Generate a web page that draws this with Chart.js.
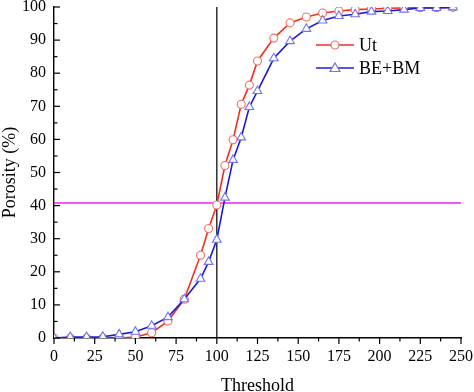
<!DOCTYPE html>
<html>
<head>
<meta charset="utf-8">
<script src="https://cdn.jsdelivr.net/npm/chart.js@4/dist/chart.umd.min.js"></script>
<style>
  html, body { margin: 0; padding: 0; background: #fff; overflow: hidden; }
  #wrap { width: 474px; height: 392px; overflow: hidden; }
</style>
</head>
<body>
<div id="wrap"><canvas id="porosityChart" width="474" height="404"></canvas></div>
<script>
// thresholds sampled for both curves
const thresholds = [0, 10, 20, 30, 40, 50, 60, 70, 80, 90, 95, 100, 105, 110, 115, 120, 125,
  135, 145, 155, 165, 175, 185, 195, 205, 215, 225, 235, 245];
const utValues = [0, 0, 0, 0, 0, 0.3, 1.6, 5.1, 11.7, 25.0, 33.1, 40.2, 52.1, 59.9, 70.6, 76.4, 83.7,
  90.6, 95.2, 97.0, 98.2, 98.8, 99.2, 99.4, 99.6, 99.7, 99.8, 99.8, 99.9];
const beBmValues = [0, 0.3, 0.3, 0.4, 1.1, 1.9, 3.7, 6.3, 11.7, 17.9, 23.0, 29.7, 42.4, 53.8, 60.6, 69.8, 74.6,
  84.5, 89.7, 93.4, 95.9, 97.3, 97.8, 98.6, 98.8, 99.2, 99.7, 99.7, 99.9];
const seriesNames = ["Ut", "BE+BM"];
const xTickValues = [0, 25, 50, 75, 100, 125, 150, 175, 200, 225, 250];
const yTickValues = [0, 10, 20, 30, 40, 50, 60, 70, 80, 90, 100];
const thresholdMark = 100;
const porosityMark = 40.8;

const serif = "'Liberation Serif', 'Times New Roman', serif";
const redLine = "#f0301e", redMarker = "#f07060";
const blueLine = "#1c1cd8", blueMarker = "#7272f0";

const toPoints = (xs, ys) => xs.map((x, i) => ({ x: x, y: ys[i] }));

// axis ticks (major + minor) drawn from the scales
const axisTicks = {
  id: "axisTicks",
  afterDraw(chart) {
    const { ctx, scales: { x, y }, chartArea } = chart;
    ctx.save();
    ctx.strokeStyle = "#000";
    ctx.lineWidth = 1.2;
    for (let v = 0; v <= 250; v += 12.5) {
      const px = x.getPixelForValue(v);
      const len = v % 25 === 0 ? 6 : 3.5;
      ctx.beginPath();
      ctx.moveTo(px, chartArea.bottom);
      ctx.lineTo(px, chartArea.bottom + len);
      ctx.stroke();
    }
    for (let v = 0; v <= 100; v += 5) {
      const py = y.getPixelForValue(v);
      const len = v % 10 === 0 ? 6 : 3.5;
      ctx.beginPath();
      ctx.moveTo(chartArea.left, py);
      ctx.lineTo(chartArea.left + len, py);
      ctx.stroke();
    }
    ctx.restore();
  },
};

// legend inside plot, Origin style
const insideLegend = {
  id: "insideLegend",
  afterDraw(chart) {
    const ctx = chart.ctx;
    const rows = [
      { ds: chart.data.datasets[0], y: 45 },
      { ds: chart.data.datasets[1], y: 68 },
    ];
    ctx.save();
    rows.forEach((r) => {
      ctx.strokeStyle = r.ds.borderColor;
      ctx.lineWidth = 1.6;
      ctx.beginPath();
      ctx.moveTo(316, r.y);
      ctx.lineTo(354, r.y);
      ctx.stroke();
      ctx.fillStyle = "#fff";
      ctx.strokeStyle = r.ds.pointBorderColor;
      ctx.lineWidth = 1.2;
      ctx.beginPath();
      if (r.ds.pointStyle === "circle") {
        ctx.arc(335, r.y, 4, 0, Math.PI * 2);
      } else {
        ctx.moveTo(335, r.y - 5);
        ctx.lineTo(340, r.y + 3.5);
        ctx.lineTo(330, r.y + 3.5);
        ctx.closePath();
      }
      ctx.fill();
      ctx.stroke();
      ctx.fillStyle = "#000";
      ctx.font = "18px " + serif;
      ctx.textBaseline = "middle";
      ctx.fillText(r.ds.label, 359, r.y + 1);
    });
    ctx.restore();
  },
};

const ctx = document.getElementById("porosityChart").getContext("2d");
const porosityChart = new Chart(ctx, {
  type: "line",
  data: {
    datasets: [
      {
        label: seriesNames[0],
        data: toPoints(thresholds, utValues),
        borderColor: redLine,
        borderWidth: 1.6,
        pointStyle: "circle",
        pointRadius: 4,
        pointBorderWidth: 1.1,
        pointBorderColor: redMarker,
        pointBackgroundColor: "#fff",
        tension: 0,
        order: 2,
      },
      {
        label: seriesNames[1],
        data: toPoints(thresholds, beBmValues),
        borderColor: blueLine,
        borderWidth: 1.6,
        pointStyle: "triangle",
        pointRadius: 5,
        pointBorderWidth: 1.1,
        pointBorderColor: blueMarker,
        pointBackgroundColor: "#fff",
        tension: 0,
        order: 1,
      },
      {
        label: "threshold",
        data: [{ x: thresholdMark, y: 0 }, { x: thresholdMark, y: 100 }],
        borderColor: "#222",
        borderWidth: 1.4,
        pointRadius: 0,
        order: 4,
      },
      {
        label: "porosity",
        data: [{ x: 0, y: porosityMark }, { x: 250, y: porosityMark }],
        borderColor: "#f020f0",
        borderWidth: 1.4,
        pointRadius: 0,
        order: 3,
      },
    ],
  },
  options: {
    responsive: false,
    animation: false,
    layout: { padding: { top: 7, right: 13, left: 0, bottom: 0 } },
    plugins: {
      legend: { display: false },
      tooltip: { enabled: false },
    },
    scales: {
      x: {
        type: "linear",
        min: 0,
        max: 250,
        afterBuildTicks: (s) => { s.ticks = xTickValues.map((v) => ({ value: v })); },
        afterFit: (s) => {
          s.height = 66;
          s.paddingLeft = 0;
          s.paddingRight = 0;
        },
        grid: { display: true, drawOnChartArea: false, drawTicks: false },
        border: { display: true, color: "#000", width: 1.4 },
        ticks: { color: "#000", padding: 9, maxRotation: 0, font: { family: serif, size: 16 } },
        title: {
          display: true,
          text: "Threshold",
          color: "#000",
          padding: { top: 0, bottom: 7 },
          font: { family: serif, size: 18 },
        },
      },
      y: {
        min: 0,
        max: 100,
        afterBuildTicks: (s) => { s.ticks = yTickValues.map((v) => ({ value: v })); },
        afterFit: (s) => {
          s.width = 54;
          s.paddingTop = 0;
          s.paddingBottom = 0;
        },
        grid: { display: true, drawOnChartArea: false, drawTicks: false },
        border: { display: true, color: "#000", width: 1.4 },
        ticks: { color: "#000", padding: 8, font: { family: serif, size: 16 } },
        title: {
          display: true,
          text: "Porosity (%)",
          color: "#000",
          padding: { top: -1, bottom: 0 },
          font: { family: serif, size: 18 },
        },
      },
    },
  },
  plugins: [axisTicks, insideLegend],
});
</script>
</body>
</html>
